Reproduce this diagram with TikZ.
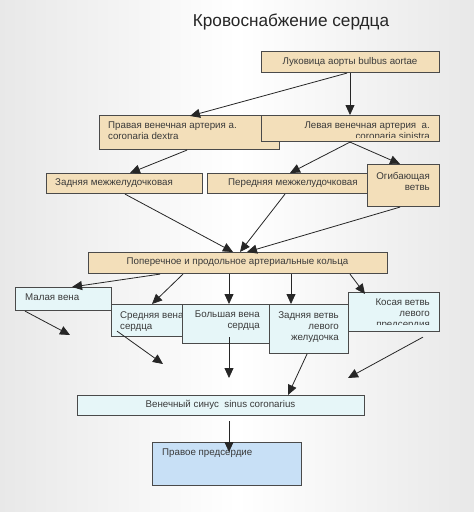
\documentclass[tikz,border=0pt]{standalone}
\usepackage{fontspec}
\setmainfont{Liberation Sans}
\usetikzlibrary{arrows.meta,calc}
\definecolor{beige}{HTML}{F3DFBA}
\definecolor{veinc}{HTML}{E6F6F8}
\definecolor{rac}{HTML}{C8E0F6}
\definecolor{bordc}{HTML}{4A4A4A}
\definecolor{txtc}{HTML}{3A3A3A}
\tikzset{
  boxbase/.style={draw=bordc, line width=1.1pt, inner sep=0pt, anchor=north west},
  artbox/.style={boxbase, fill=beige},
  veinbox/.style={boxbase, fill=veinc},
  lbl/.style={inner sep=0pt, font=\fontsize{9.75}{11}\selectfont, text=txtc},
  conn/.style={draw=black!85, line width=0.8pt, -{Triangle[length=10pt,width=9pt]}}
}
\begin{document}
\begin{tikzpicture}[x=1pt,y=-1pt]
\useasboundingbox (0,0) rectangle (474,512);
\shade[left color=black!9, right color=black!9, middle color=white] (0,0) rectangle (474,512);

\node[font=\fontsize{17.2}{19}\selectfont, text=black!85] (title) at (291,22) {Кровоснабжение сердца};

% row 1
\node[artbox, minimum width=178pt, minimum height=21pt] (bulb) at (261,51) {};
\node[lbl] (tbulb) at (350,61.5) {Луковица аорты bulbus aortae};

% row 2
\node[artbox, minimum width=180pt, minimum height=34pt] (rca) at (99,115) {};
\node[lbl, anchor=north west, align=left] (trca) at (108,122) {Правая венечная артерия а.\\coronaria dextra};
\node[artbox, minimum width=178pt, minimum height=26pt] (lca) at (261,115) {};
\begin{scope}
\clip (262,116) rectangle (438,137.5);
\node[lbl, anchor=north east, align=right] (tlca) at (430,122) {Левая венечная артерия\ \ а.\\coronaria sinistra};
\end{scope}

% row 3
\node[artbox, minimum width=156pt, minimum height=20pt] (zad) at (46,173) {};
\node[lbl, anchor=west] (tzad) at (55,183) {Задняя межжелудочковая};
\node[artbox, minimum width=175pt, minimum height=20pt] (per) at (207,173) {};
\node[lbl, anchor=west] (tper) at (228,183) {Передняя межжелудочковая};
\node[artbox, minimum width=72pt, minimum height=42pt] (ogib) at (367,164) {};
\node[lbl, anchor=north east, align=right] (togib) at (430,172) {Огибающая\\ветвь};

% row 4
\node[artbox, minimum width=299pt, minimum height=21pt] (rings) at (88,252) {};
\node[lbl] (trings) at (237.5,262.5) {Поперечное и продольное артериальные кольца};

% row 5 veins
\node[veinbox, minimum width=96pt, minimum height=23pt] (malaya) at (15,287) {};
\node[lbl, anchor=west] (tmalaya) at (25,297) {Малая вена};
\node[veinbox, minimum width=80pt, minimum height=32pt] (sred) at (111,304) {};
\node[lbl, anchor=north west, align=left] (tsred) at (120,311) {Средняя вена\\сердца};
\node[veinbox, minimum width=87pt, minimum height=39pt] (bolsh) at (182,304) {};
\node[lbl, anchor=north east, align=right] (tbolsh) at (260,311) {Большая вена\\сердца};
\node[veinbox, minimum width=79pt, minimum height=49pt] (zvetv) at (269,304) {};
\node[lbl, anchor=north east, align=right] (tzvetv) at (339,311) {Задняя ветвь\\левого\\желудочка};
\node[veinbox, minimum width=91pt, minimum height=39pt] (kosaya) at (348,292) {};
\begin{scope}
\clip (349,293) rectangle (438,324.5);
\node[lbl, anchor=north east, align=right] (tkosaya) at (430,299) {Косая ветвь\\левого\\предсердия};
\end{scope}

% row 6
\node[veinbox, minimum width=287pt, minimum height=20pt] (sinus) at (77,395) {};
\node[lbl] (tsinus) at (220.5,405) {Венечный синус\ \ sinus coronarius};

% row 7
\node[boxbase, fill=rac, minimum width=149pt, minimum height=43pt] (ra) at (152,442) {};
\node[lbl, anchor=west] (tra) at (162,453) {Правое предсердие};

% free ends
\coordinate (f1) at (70,335);
\coordinate (f2) at (163,364);
\coordinate (f3) at (229,378);
\coordinate (f4) at (348,378);

% connectors
\draw[conn] ($(bulb.south west)+(86,0)$) -- ($(rca.north west)+(91,1)$);
\draw[conn] ($(bulb.south west)+(89,0)$) -- ($(lca.north west)+(89,0)$);
\draw[conn] ($(rca.south west)+(88,0)$) -- ($(zad.north west)+(84,0)$);
\draw[conn] ($(lca.south west)+(89,0)$) -- ($(per.north west)+(83,0)$);
\draw[conn] ($(lca.south west)+(89,0)$) -- ($(ogib.north west)+(33,0)$);
\draw[conn] ($(zad.south west)+(79,0)$) -- ($(rings.north west)+(145,0)$);
\draw[conn] ($(per.south west)+(78,0)$) -- ($(rings.north west)+(152,0)$);
\draw[conn] ($(ogib.south west)+(33,0)$) -- ($(rings.north west)+(159,0)$);
\draw[conn] ($(rings.south west)+(72,0)$) -- ($(malaya.north west)+(57,0)$);
\draw[conn] ($(rings.south west)+(95,0)$) -- ($(sred.north west)+(41,0)$);
\draw[conn] ($(rings.south west)+(141,0)$) -- ($(bolsh.north west)+(47,0)$);
\draw[conn] ($(rings.south west)+(203,0)$) -- ($(zvetv.north west)+(22,0)$);
\draw[conn] ($(rings.south west)+(262,0)$) -- ($(kosaya.north west)+(17,2)$);
\draw[conn] ($(malaya.south west)+(10,0)$) -- (f1);
\draw[conn] ($(sred.south west)+(6,-6)$) -- (f2);
\draw[conn] ($(bolsh.south west)+(47,-7)$) -- (f3);
\draw[conn] ($(zvetv.south west)+(38,0)$) -- ($(sinus.north west)+(211,0)$);
\draw[conn] ($(kosaya.south west)+(75,5)$) -- (f4);
\draw[conn] ($(sinus.south west)+(152,5)$) -- ($(ra.north west)+(77,10)$);
\end{tikzpicture}
\end{document}
